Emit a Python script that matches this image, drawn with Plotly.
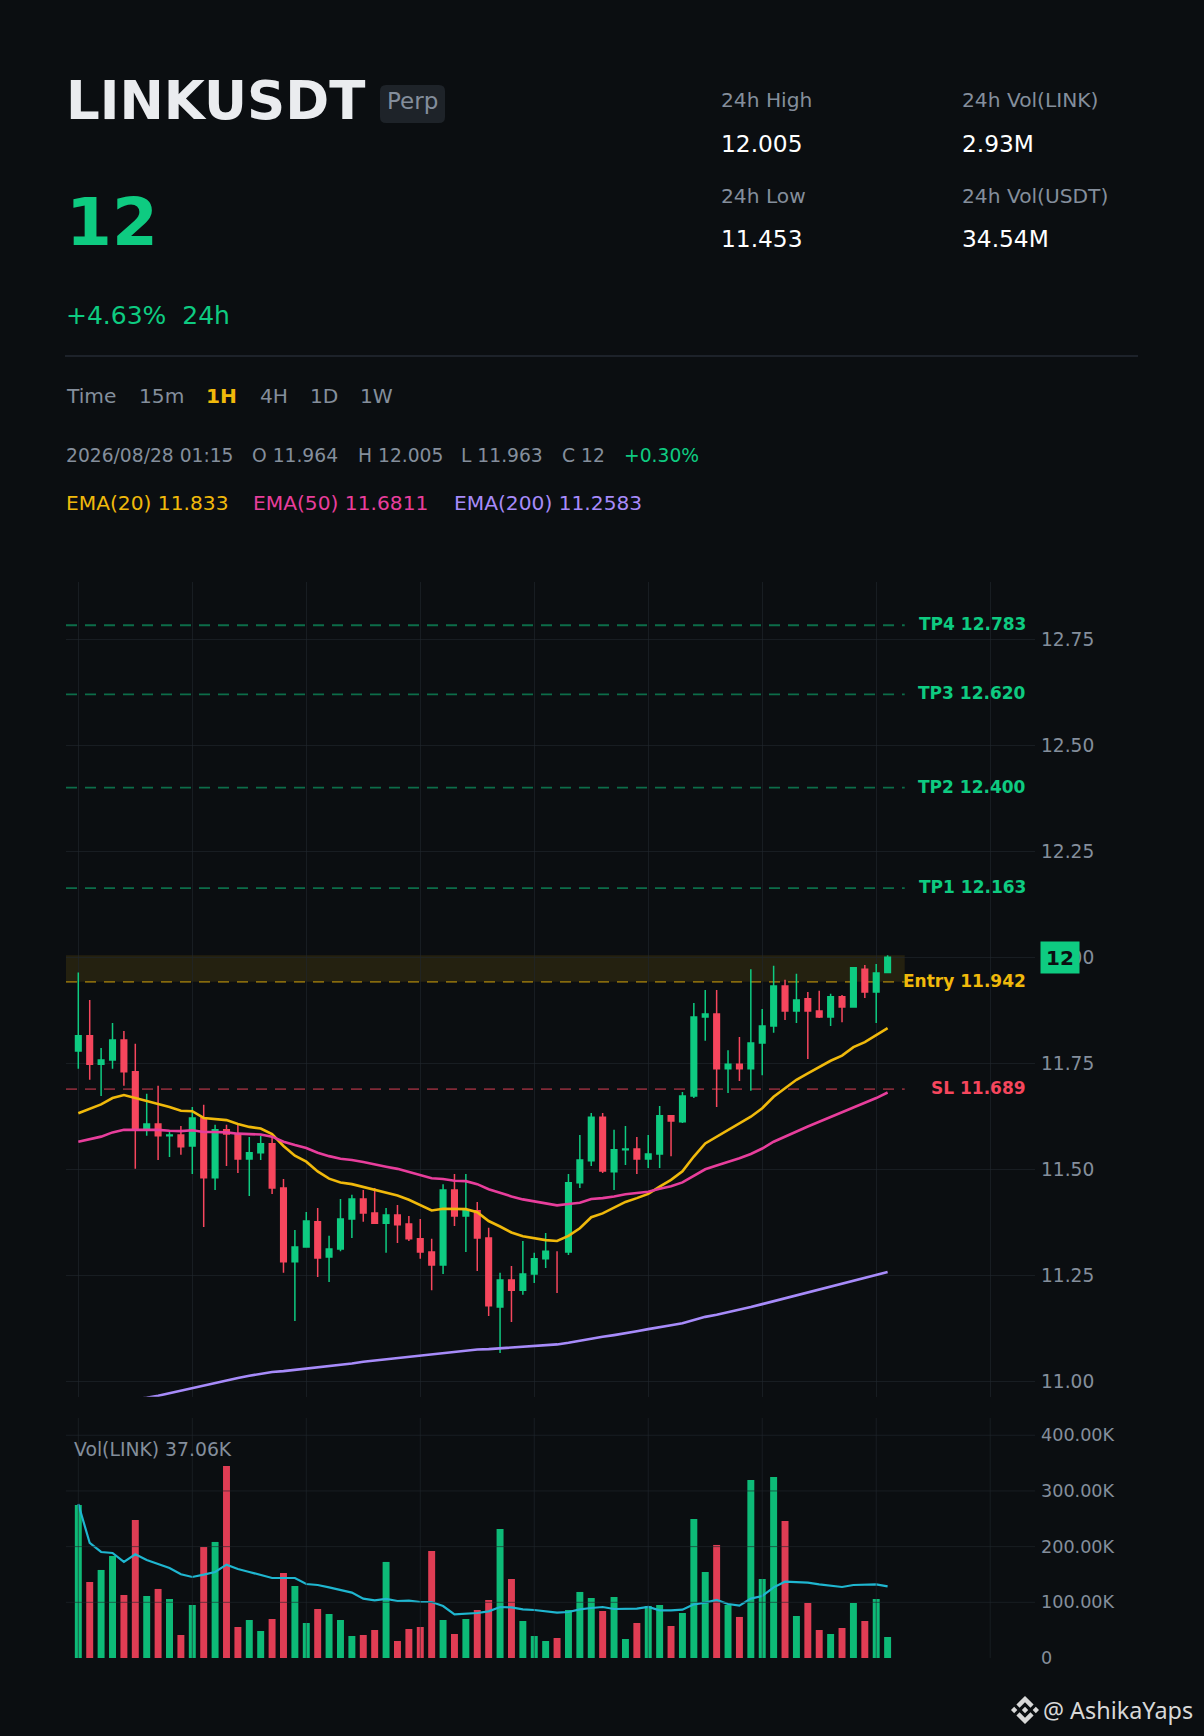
import plotly.graph_objects as go

W, H = 1204, 1736

BG = "#0b0e11"
GREEN = "#0ecb81"
RED = "#f6465d"
YELLOW = "#f0b90b"
PINK = "#e83e9c"
PURPLE = "#a78bfa"
CYAN = "#1fb6d0"
GREY = "#848e9c"
GRID = "rgba(32,38,45,0.62)"
FONT = "DejaVu Sans"

opens = [11.779, 11.815, 11.748, 11.758, 11.805, 11.730, 11.593, 11.607, 11.579, 11.581,
         11.555, 11.621, 11.480, 11.593, 11.583, 11.524, 11.539, 11.560, 11.456, 11.282,
         11.317, 11.376, 11.293, 11.312, 11.383, 11.430, 11.397, 11.373, 11.392, 11.371,
         11.336, 11.305, 11.274, 11.451, 11.390, 11.402, 11.338, 11.175, 11.239, 11.215,
         11.253, 11.289, 11.307, 11.305, 11.468, 11.520, 11.623, 11.494, 11.546, 11.548,
         11.524, 11.536, 11.626, 11.612, 11.673, 11.859, 11.866, 11.737, 11.748, 11.737,
         11.798, 11.838, 11.932, 11.873, 11.902, 11.873, 11.859, 11.907, 11.883, 11.972,
         11.918, 11.964]
highs = [11.964, 11.899, 11.786, 11.845, 11.826, 11.796, 11.678, 11.697, 11.590, 11.602,
         11.647, 11.652, 11.605, 11.605, 11.605, 11.576, 11.579, 11.579, 11.477, 11.357,
         11.399, 11.409, 11.343, 11.430, 11.440, 11.451, 11.456, 11.409, 11.416, 11.390,
         11.383, 11.336, 11.465, 11.489, 11.489, 11.423, 11.362, 11.256, 11.272, 11.331,
         11.303, 11.350, 11.307, 11.489, 11.581, 11.633, 11.633, 11.593, 11.602, 11.576,
         11.581, 11.649, 11.628, 11.682, 11.892, 11.923, 11.923, 11.781, 11.812, 11.972,
         11.878, 11.980, 11.947, 11.961, 11.918, 11.921, 11.914, 11.911, 11.977, 11.982,
         11.984, 12.005]
lows = [11.737, 11.711, 11.673, 11.737, 11.697, 11.501, 11.579, 11.522, 11.529, 11.534,
        11.489, 11.364, 11.451, 11.508, 11.491, 11.437, 11.522, 11.442, 11.256, 11.142,
        11.315, 11.246, 11.234, 11.307, 11.338, 11.376, 11.373, 11.303, 11.326, 11.331,
        11.289, 11.215, 11.253, 11.366, 11.305, 11.260, 11.154, 11.067, 11.140, 11.204,
        11.232, 11.267, 11.208, 11.298, 11.456, 11.508, 11.491, 11.451, 11.510, 11.489,
        11.503, 11.503, 11.531, 11.609, 11.668, 11.803, 11.647, 11.680, 11.708, 11.685,
        11.722, 11.822, 11.852, 11.845, 11.760, 11.857, 11.838, 11.847, 11.883, 11.904,
        11.845, 11.963]
closes = [11.815, 11.748, 11.758, 11.805, 11.730, 11.593, 11.607, 11.579, 11.581, 11.553,
          11.621, 11.480, 11.593, 11.583, 11.524, 11.539, 11.560, 11.456, 11.282, 11.317,
          11.378, 11.291, 11.312, 11.383, 11.430, 11.397, 11.373, 11.392, 11.369, 11.336,
          11.305, 11.274, 11.451, 11.390, 11.402, 11.338, 11.178, 11.239, 11.215, 11.253,
          11.289, 11.307, 11.307, 11.468, 11.522, 11.623, 11.496, 11.546, 11.548, 11.524,
          11.536, 11.626, 11.614, 11.673, 11.859, 11.866, 11.737, 11.748, 11.737, 11.798,
          11.838, 11.932, 11.873, 11.899, 11.873, 11.859, 11.907, 11.883, 11.975, 11.918,
          11.963, 12.0]

ema20 = [11.632, 11.642, 11.653, 11.668, 11.675, 11.668, 11.661, 11.654, 11.647, 11.638,
         11.637, 11.621, 11.619, 11.616, 11.607, 11.600, 11.596, 11.583, 11.555, 11.532,
         11.518, 11.495, 11.478, 11.469, 11.465, 11.458, 11.451, 11.445, 11.438, 11.428,
         11.416, 11.403, 11.407, 11.406, 11.406, 11.399, 11.378, 11.365, 11.351, 11.342,
         11.337, 11.333, 11.331, 11.343, 11.361, 11.387, 11.396, 11.410, 11.423, 11.432,
         11.442, 11.459, 11.475, 11.495, 11.530, 11.561, 11.577, 11.593, 11.607, 11.624,
         11.644, 11.671, 11.691, 11.711, 11.726, 11.740, 11.756, 11.768, 11.788, 11.800,
         11.817, 11.833]
ema50 = [11.565, 11.571, 11.577, 11.587, 11.593, 11.593, 11.593, 11.593, 11.591, 11.590,
         11.592, 11.588, 11.588, 11.587, 11.584, 11.583, 11.582, 11.577, 11.565, 11.557,
         11.550, 11.539, 11.531, 11.525, 11.522, 11.517, 11.511, 11.506, 11.501, 11.494,
         11.487, 11.479, 11.477, 11.473, 11.472, 11.465, 11.453, 11.444, 11.436, 11.429,
         11.424, 11.419, 11.415, 11.418, 11.421, 11.430, 11.432, 11.436, 11.441, 11.444,
         11.447, 11.454, 11.460, 11.469, 11.484, 11.500, 11.509, 11.517, 11.526, 11.536,
         11.549, 11.565, 11.577, 11.590, 11.601, 11.612, 11.623, 11.634, 11.646, 11.657,
         11.668, 11.681]
ema200 = [10.930, 10.936, 10.942, 10.948, 10.954, 10.958, 10.961, 10.966, 10.972, 10.978,
          10.985, 10.991, 10.997, 11.002, 11.008, 11.013, 11.018, 11.022, 11.024, 11.027,
          11.030, 11.032, 11.035, 11.039, 11.042, 11.046, 11.049, 11.052, 11.054, 11.057,
          11.061, 11.064, 11.067, 11.070, 11.072, 11.075, 11.076, 11.078, 11.079, 11.081,
          11.083, 11.085, 11.087, 11.091, 11.096, 11.101, 11.105, 11.109, 11.113, 11.118,
          11.123, 11.127, 11.132, 11.137, 11.145, 11.152, 11.157, 11.163, 11.168, 11.175,
          11.182, 11.189, 11.196, 11.203, 11.210, 11.217, 11.224, 11.230, 11.238, 11.245,
          11.252, 11.258]

# volume in thousands
volumes = [274.9, 136.5, 158.1, 183.2, 113.2, 247.9, 111.4, 124.0, 106.0, 41.3,
           95.2, 199.4, 208.4, 344.9, 55.7, 68.3, 48.5, 70.1, 152.7, 129.3,
           62.9, 88.0, 79.0, 68.3, 39.5, 41.3, 50.3, 172.5, 30.5, 52.1,
           55.7, 192.2, 68.3, 43.1, 70.1, 86.2, 104.2, 231.7, 141.9, 66.5,
           39.5, 30.5, 35.9, 86.2, 118.6, 107.8, 84.4, 109.6, 34.1, 62.9,
           93.4, 95.2, 57.5, 80.8, 249.7, 154.5, 203.0, 95.2, 73.7, 319.8,
           141.9, 325.1, 246.1, 75.4, 98.8, 50.3, 43.1, 53.9, 98.8, 66.5,
           106.0, 37.7]
vol_ma = [276.6, 206.6, 190.4, 188.6, 172.5, 186.2, 176.0, 168.9, 161.7, 150.3,
          145.5, 149.7, 154.5, 167.7, 159.9, 154.5, 148.5, 143.7, 143.7, 143.7,
          132.9, 131.1, 126.9, 121.6, 117.4, 106.6, 103.6, 106.0, 102.4, 103.0,
          100.6, 100.6, 93.4, 78.4, 79.6, 80.8, 83.8, 91.6, 91.0, 87.4,
          86.2, 83.2, 81.4, 82.6, 87.4, 89.8, 91.6, 88.0, 88.0, 88.6,
          91.6, 85.6, 85.6, 86.8, 96.4, 99.4, 104.2, 97.0, 94.0, 106.6,
          111.4, 126.9, 137.1, 136.5, 135.3, 132.3, 130.5, 127.5, 131.1, 131.7,
          132.3, 128.7]

price_ticks = [11.0, 11.25, 11.5, 11.75, 12.0, 12.25, 12.5, 12.75]
price_labels = ["11.00", "11.25", "11.50", "11.75", "12.00", "12.25", "12.50", "12.75"]
vol_ticks = [0, 100, 200, 300, 400]
vol_labels = ["0", "100.00K", "200.00K", "300.00K", "400.00K"]
x_grid = [0, 10, 20, 30, 40, 50, 60, 70, 80]

level_names = ["TP4", "TP3", "TP2", "TP1", "Entry", "SL"]
level_prices = [12.783, 12.620, 12.400, 12.163, 11.942, 11.689]
level_labels = ["12.783", "12.620", "12.400", "12.163", "11.942", "11.689"]
level_colors = [GREEN, GREEN, GREEN, GREEN, YELLOW, RED]
zone_low, zone_high = 11.942, 12.005

idx = list(range(len(closes)))
X_RANGE = [-1.08, 83.93]
LEVEL_END = 72.5


def px(x):
    return x / W


def py(y):
    return 1 - y / H


annotations = []
shapes = []


def txt(x, y, text, size, color=GREY, bold=False, anchor="left", family=FONT):
    annotations.append(dict(
        xref="paper", yref="paper", x=px(x), y=py(y), xanchor=anchor, yanchor="middle",
        text=f"<b>{text}</b>" if bold else text, showarrow=False, borderpad=0,
        font=dict(family=family, size=size, color=color),
    ))


def paper_path(points):
    return "M" + " L".join(f"{px(a):.5f},{py(b):.5f}" for a, b in points) + " Z"


# flat bars have no body in the reference, only a wick: they get drawn as a plain line
flat = [i for i in idx if opens[i] == closes[i]]


def bodied(values):
    return [None if i in flat else v for i, v in enumerate(values)]


fig = go.Figure()

fig.add_trace(go.Candlestick(
    x=idx, open=bodied(opens), high=bodied(highs), low=bodied(lows), close=bodied(closes),
    increasing=dict(line=dict(color=GREEN, width=1.5), fillcolor=GREEN),
    decreasing=dict(line=dict(color=RED, width=1.5), fillcolor=RED),
    whiskerwidth=0, xaxis="x", yaxis="y", hoverinfo="skip",
))
for i in flat:
    fig.add_trace(go.Scatter(x=[i, i], y=[lows[i], highs[i]], mode="lines", line=dict(color=RED, width=1.5),
                             xaxis="x", yaxis="y", hoverinfo="skip"))
for values, color in [(ema20, YELLOW), (ema50, PINK), (ema200, PURPLE)]:
    fig.add_trace(go.Scatter(x=idx, y=values, mode="lines", line=dict(color=color, width=2.6),
                             xaxis="x", yaxis="y", hoverinfo="skip"))

bar_colors = ["#0dba77" if c > o else "#df3d54" for o, c in zip(opens, closes)]
fig.add_trace(go.Bar(x=idx, y=volumes, marker=dict(color=bar_colors, line=dict(width=0)),
                     width=0.61, xaxis="x2", yaxis="y2", hoverinfo="skip"))
fig.add_trace(go.Scatter(x=idx, y=vol_ma, mode="lines", line=dict(color=CYAN, width=2.2),
                         xaxis="x2", yaxis="y2", hoverinfo="skip"))

# entry zone and level lines
shapes.append(dict(type="rect", xref="x", yref="y", x0=X_RANGE[0], x1=LEVEL_END, y0=zone_low, y1=zone_high,
                   fillcolor="rgba(240,185,11,0.115)", line=dict(width=0), layer="below"))
for name, price, label, color in zip(level_names, level_prices, level_labels, level_colors):
    shapes.append(dict(type="line", xref="x", yref="y", x0=X_RANGE[0], x1=LEVEL_END, y0=price, y1=price,
                       line=dict(color=color, width=1.8, dash="11px,8px"), opacity=0.5, layer="below"))
    txt(1027, 956.3 + (12 - price) * 424, f"{name} {label}", 17, color, bold=True, anchor="right")

# volume grid sits on top of the bars
for v in x_grid:
    shapes.append(dict(type="line", xref="x2", yref="y2", x0=v, x1=v, y0=0, y1=431,
                       line=dict(color=GRID, width=1)))
for v in vol_ticks[1:]:
    shapes.append(dict(type="line", xref="x2", yref="y2", x0=X_RANGE[0], x1=X_RANGE[1], y0=v, y1=v,
                       line=dict(color=GRID, width=1)))

# header
txt(65, 100, "LINKUSDT", 53, "#eaecef", bold=True)
r = 6
l_, r_, t_, b_ = 380, 445, 85, 123
shapes.append(dict(
    type="path", xref="paper", yref="paper", fillcolor="#1e2329", line=dict(width=0),
    path=(f"M{px(l_+r)},{py(t_)} L{px(r_-r)},{py(t_)} Q{px(r_)},{py(t_)} {px(r_)},{py(t_+r)} "
          f"L{px(r_)},{py(b_-r)} Q{px(r_)},{py(b_)} {px(r_-r)},{py(b_)} L{px(l_+r)},{py(b_)} "
          f"Q{px(l_)},{py(b_)} {px(l_)},{py(b_-r)} L{px(l_)},{py(t_+r)} Q{px(l_)},{py(t_)} {px(l_+r)},{py(t_)} Z"),
))
txt(412, 100.5, "Perp", 23, GREY, anchor="center")
txt(65, 222, "12", 66, GREEN, bold=True)
txt(65, 316, "+4.63%\u00a0\u00a024h", 25, GREEN)

txt(720, 99.5, "24h High", 20.2)
txt(720, 143.5, "12.005", 23.3, "#ffffff")
txt(720, 195.5, "24h Low", 20.2)
txt(720, 238.5, "11.453", 23.3, "#ffffff")
txt(961, 99.5, "24h Vol(LINK)", 20.2)
txt(961, 143.5, "2.93M", 23.3, "#ffffff")
txt(961, 195.5, "24h Vol(USDT)", 20.2)
txt(961, 238.5, "34.54M", 23.3, "#ffffff")

shapes.append(dict(type="line", xref="paper", yref="paper", x0=px(65), x1=px(1138), y0=py(356), y1=py(356),
                   line=dict(color="#252a33", width=1.5)))

for x, label in zip([65, 138, 258.5, 308.5, 358.5], ["Time", "15m", "4H", "1D", "1W"]):
    txt(x, 396, label, 20.2)
txt(205, 396, "1H", 20.2, YELLOW, bold=True)

for x, label in zip([65, 251, 357, 460, 561],
                    ["2026/08/28 01:15", "O 11.964", "H 12.005", "L 11.963", "C 12"]):
    txt(x, 456, label, 18.7)
txt(622.5, 456, "+0.30%", 18.7, GREEN)

txt(65, 503, "EMA(20) 11.833", 20.2, YELLOW)
txt(252, 503, "EMA(50) 11.6811", 20.2, PINK)
txt(452.5, 503, "EMA(200) 11.2583", 20.2, PURPLE)

# last price tag
annotations.append(dict(
    xref="paper", yref="paper", x=px(1060), y=py(957.3), xanchor="center", yanchor="middle",
    text="<b>12</b>", showarrow=False, bgcolor=GREEN, width=38, height=31, borderpad=0,
    font=dict(family=FONT, size=20, color=BG),
))

txt(73, 1449.5, "Vol(LINK) 37.06K", 18.8, GREY)

# watermark
logo = [
    [(38.73, 53.2), (63.32, 28.62), (87.92, 53.22), (102.22, 38.91), (63.32, 0), (24.42, 38.9)],
    [(0, 63.31), (14.3, 49), (28.61, 63.31), (14.3, 77.61)],
    [(38.73, 73.41), (63.32, 98), (87.92, 73.4), (102.23, 87.69), (63.33, 126.6), (24.42, 87.72)],
    [(98, 63.31), (112.3, 49), (126.61, 63.3), (112.3, 77.62)],
    [(77.83, 63.3), (63.32, 48.78), (48.81, 63.28), (63.32, 77.78)],
]
scale = 28 / 126.6
for poly in logo:
    pts = [(1011 + a * scale, 1696 + b * scale) for a, b in poly]
    shapes.append(dict(type="path", xref="paper", yref="paper", path=paper_path(pts),
                       fillcolor="#d8d8d8", line=dict(width=0)))
txt(1042, 1710, "@ AshikaYaps", 23.4, "#d8d8d8", family="Noto Sans")

axis_common = dict(showline=False, zeroline=False, ticks="", fixedrange=True)
fig.update_layout(
    width=W, height=H, margin=dict(l=0, r=0, t=0, b=0, autoexpand=False),
    paper_bgcolor=BG, plot_bgcolor=BG, showlegend=False, dragmode=False,
    font=dict(family=FONT, color=GREY),
    annotations=annotations, shapes=shapes,
    xaxis=dict(domain=[px(66), px(1035)], range=X_RANGE, anchor="y", showticklabels=False,
               tickmode="array", tickvals=x_grid, showgrid=True, gridcolor=GRID,
               rangeslider=dict(visible=False), **axis_common),
    yaxis=dict(domain=[py(1396.7), py(582)], range=[10.9637, 12.885], anchor="x", side="right",
               tickmode="array", tickvals=price_ticks, ticktext=price_labels, showgrid=True, gridcolor=GRID,
               tickfont=dict(size=18.6, color=GREY), ticklabelstandoff=5, **axis_common),
    xaxis2=dict(domain=[px(66), px(1035)], range=X_RANGE, anchor="y2", showticklabels=False,
                tickmode="array", tickvals=x_grid, showgrid=False, **axis_common),
    yaxis2=dict(domain=[py(1658), py(1418)], range=[0, 431], anchor="x2", side="right",
                tickmode="array", tickvals=vol_ticks, ticktext=vol_labels, showgrid=False,
                tickfont=dict(size=17.6, color=GREY), ticklabelstandoff=5, **axis_common),
)

fig.write_html("out.html", config=dict(displayModeBar=False),
               post_script="document.body.style.margin='0';document.body.style.background='#0b0e11';")
